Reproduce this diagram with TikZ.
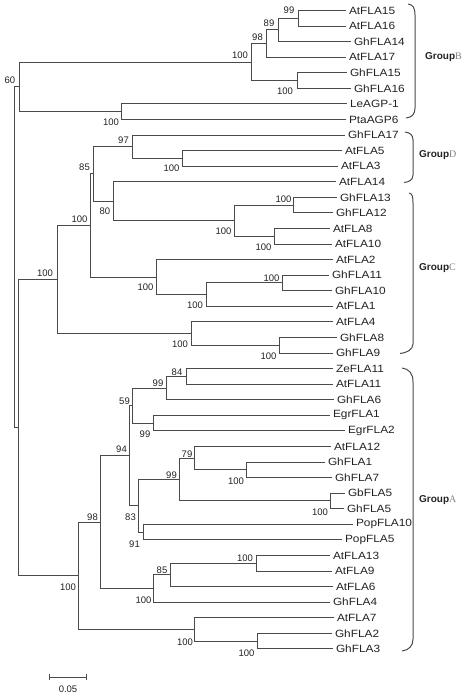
\documentclass[tikz,border=0pt]{standalone}
\usepackage{graphicx}
\usepackage{fontspec}
\setmainfont{Liberation Sans}
\newfontfamily\grpfont{Liberation Serif}
\definecolor{ln}{HTML}{4a4a4a}
\definecolor{tx}{HTML}{222222}
\newcommand\lf[1]{\scalebox{1.13}[1]{#1}}
\begin{document}
\begin{tikzpicture}[x=1pt,y=-1pt,
  br/.style={draw=ln,line width=1pt},
  leaf/.style={anchor=west,inner xsep=3pt,inner ysep=0pt,outer sep=0pt,text=tx,font=\fontsize{10.5}{12}\selectfont},
  bs/.style={inner sep=0pt,text=tx,font=\fontsize{9.5}{11}\selectfont},
  grp/.style={anchor=west,inner sep=0pt,text=tx,font=\fontsize{10}{12}\selectfont\bfseries}]
\useasboundingbox (0,0) rectangle (474,698);

% internal nodes
\coordinate (na) at (298,18.29);
\coordinate (nb) at (278,29.97);
\coordinate (nc) at (266,43.59);
\coordinate (nd) at (297,80.57);
\coordinate (ne) at (251,62.08);
\coordinate (nf) at (121,111.71);
\coordinate (nN1) at (19,86.9);
\coordinate (nh) at (182,158.42);
\coordinate (nD) at (132,146.74);
\coordinate (ni) at (293,205.13);
\coordinate (nj) at (274,236.27);
\coordinate (nC1) at (234,220.7);
\coordinate (n80) at (113,201.24);
\coordinate (n85) at (93,173.99);
\coordinate (nm) at (282,282.98);
\coordinate (nl) at (206,294.65);
\coordinate (nk) at (156,277.14);
\coordinate (ng) at (90,225.56);
\coordinate (no) at (279,345.26);
\coordinate (nn) at (191,333.58);
\coordinate (nCD) at (57,279.57);
\coordinate (nt) at (186,376.4);
\coordinate (nr) at (166,388.07);
\coordinate (ns) at (153,423.1);
\coordinate (n59) at (132,405.59);
\coordinate (nx) at (246,469.82);
\coordinate (nv) at (194,458.14);
\coordinate (nw) at (330,500.96);
\coordinate (nu) at (179,479.55);
\coordinate (n91) at (143,532.1);
\coordinate (n83) at (138.5,505.82);
\coordinate (nq) at (129.5,455.7);
\coordinate (naa) at (256,563.24);
\coordinate (nz) at (170,574.91);
\coordinate (ny) at (153,588.54);
\coordinate (np) at (100,522.12);
\coordinate (ncc) at (257,641.09);
\coordinate (nbb) at (194,629.41);
\coordinate (nA) at (78,575.77);
\coordinate (nN2) at (18,427.67);
\coordinate (nR) at (14,257.3);

% leaves
\foreach \i/\xe/\nm in {1/346/AtFLA15,2/346/AtFLA16,3/351/GhFLA14,4/346/AtFLA17,5/347/GhFLA15,6/351/GhFLA16,7/347/LeAGP-1,8/346/PtaAGP6,9/345/GhFLA17,10/342/AtFLA5,11/338/AtFLA3,12/336/AtFLA14,13/337/GhFLA13,14/333/GhFLA12,15/330/AtFLA8,16/332/AtFLA10,17/333/AtFLA2,18/329/GhFLA11,19/332/GhFLA10,20/333/AtFLA1,21/333/AtFLA4,22/337/GhFLA8,23/333/GhFLA9,24/333/ZeFLA11,25/333/AtFLA11,26/334/GhFLA6,27/330/EgrFLA1,28/345/EgrFLA2,29/331/AtFLA12,30/325/GhFLA1,31/332/GhFLA7,32/345/GbFLA5,33/344/GhFLA5,34/353/PopFLA10,35/342/PopFLA5,36/330/AtFLA13,37/332/AtFLA9,38/333/AtFLA6,39/330/GhFLA4,40/334/AtFLA7,41/332/GhFLA2,42/333/GhFLA3}
  \node[leaf] (L\i) at (\xe,{10.5+(\i-1)*15.57}) {\lf{\nm}};

% internal branches
\foreach \p/\c in {nR/nN1,nR/nN2,nN1/ne,nN1/nf,ne/nc,ne/nd,nc/nb,nb/na,nN2/nCD,nN2/nA,nCD/ng,nCD/nn,ng/n85,ng/nk,n85/nD,n85/n80,nD/nh,n80/nC1,nC1/ni,nC1/nj,nk/nl,nl/nm,nn/no,nA/np,nA/nbb,np/nq,np/ny,nq/n59,nq/n83,n59/nr,n59/ns,nr/nt,n83/nu,n83/n91,nu/nv,nu/nw,nv/nx,ny/nz,nz/naa,nbb/ncc}
  \draw[br] (\p) |- (\c);

% leaf branches
\foreach \p/\c in {na/1,na/2,nb/3,nc/4,nd/5,nd/6,nf/7,nf/8,nD/9,nh/10,nh/11,n80/12,ni/13,ni/14,nj/15,nj/16,nk/17,nm/18,nm/19,nl/20,nn/21,no/22,no/23,nt/24,nt/25,nr/26,ns/27,ns/28,nv/29,nx/30,nx/31,nw/32,nw/33,n91/34,n91/35,naa/36,naa/37,nz/38,ny/39,nbb/40,ncc/41,ncc/42}
  \draw[br] (\p) |- (L\c.west);

% bootstrap values
\foreach \xx/\yy/\t [count=\k] in {289/10/99,269/23/89,257.5/37/98,285/91/100,240/55/100,111/122/100,10/80/60,123.5/140/97,171.5/168/100,84.5/167/85,105/211/80,223.5/231/100,283.5/199/100,263.5/247/100,79.5/219/100,145.5/287/100,195/305/100,271.5/278/100,180/344/100,268.5/356/100,45/273/100,68/587/100,92.5/517/98,121.5/449/94,124.5/401/59,158/383/99,177/372/84,145/434/99,130.5/517/83,134.5/544/91,171.5/475/99,187/454/79,236/481/100,320/512/100,143.5/600/100,162/570/85,245/558/100,185/642/100,246.5/653/100}
  \node[bs] (bs\k) at (\xx,\yy) {\t};

% group brackets
\draw[br] (408,4) .. controls (413,4.5) and (415,8) .. (415,15) -- (415,108) .. controls (415,114) and (412,117.5) .. (406,118);
\draw[br] (405,132) .. controls (410,132.5) and (413,135) .. (413,140) -- (413,175) .. controls (413,180) and (409,182) .. (404,182.5);
\draw[br] (409,193) .. controls (412,193.5) and (413,196) .. (413,203) -- (413,344) .. controls (413,350) and (406,353) .. (400,353.5);
\draw[br] (402,368) .. controls (409,369) and (413,373) .. (413,382) -- (413,639) .. controls (413,646) and (409,650) .. (402,651);

\node[grp] (gB) at (425,57) {Group\textcolor{gray}{\mdseries\grpfont B}};
\node[grp] (gD) at (419,155.5) {Group\textcolor{gray}{\mdseries\grpfont D}};
\node[grp] (gC) at (419,268) {Group\textcolor{gray}{\mdseries\grpfont C}};
\node[grp] (gA) at (419,500) {Group\textcolor{gray}{\mdseries\grpfont A}};

% scale bar
\coordinate (s1) at (49,677);
\coordinate (s2) at (86,677);
\draw[br] (s1) -- (s2);
\draw[br] ([yshift=-3pt]s1) -- ([yshift=3pt]s1);
\draw[br] ([yshift=-3pt]s2) -- ([yshift=3pt]s2);
\node[bs] (sl) at (68,689) {0.05};
\end{tikzpicture}
\end{document}
